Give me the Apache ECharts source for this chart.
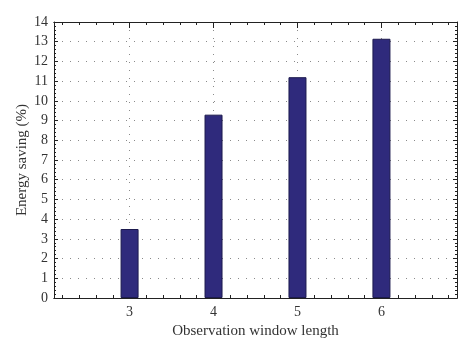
<!DOCTYPE html>
<html>
<head>
<meta charset="utf-8">
<script src="https://cdn.jsdelivr.net/npm/echarts@6/dist/echarts.min.js"></script>
<style>
  html, body { margin: 0; padding: 0; background: #fff; }
  #chart { width: 474px; height: 354px; }
</style>
</head>
<body>
<div id="chart"></div>
<script>
// window lengths and energy saving (%)
const windowLengths = [3, 4, 5, 6];
const energySaving = [3.5, 9.3, 11.2, 13.15];
const xMinorTicks = [2.2, 2.4, 2.6, 2.8, 3.2, 3.4, 3.6, 3.8, 4.2, 4.4, 4.6, 4.8,
  5.2, 5.4, 5.6, 5.8, 6.2, 6.4, 6.6, 6.8];

const font = "Liberation Serif";
const textColor = "#333";

const chart = echarts.init(document.getElementById("chart"));

const dotted = { color: "#8a8a8a", width: 1, type: [1, 7] };

// base x axis settings, copied for bottom/top and major/minor
const xBase = (pos, ticks, extra) => Object.assign({
  type: "value",
  position: pos,
  min: 2.1,
  max: 6.9,
  axisLine: { show: true, onZero: false, lineStyle: { color: "#222", width: 1 } },
  axisTick: { show: true, inside: true, length: 4, customValues: ticks, lineStyle: { color: "#222" } },
  axisLabel: { show: false },
  splitLine: { show: false },
}, extra || {});

const option = {
  animation: false,
  grid: { left: 54, right: 17, top: 22, bottom: 56 },
  xAxis: [
    xBase("bottom", windowLengths, {
      name: "Observation window length",
      nameLocation: "middle",
      nameGap: 22,
      nameTextStyle: { fontFamily: font, fontSize: 15, color: textColor },
      axisLabel: {
        show: true, customValues: windowLengths, margin: 7,
        fontFamily: font, fontSize: 14, color: textColor,
      },
      splitLine: { show: true, lineStyle: dotted },
    }),
    xBase("bottom", xMinorTicks, { axisTick: { show: true, inside: true, length: 3, customValues: xMinorTicks, lineStyle: { color: "#222" } } }),
    xBase("top", windowLengths, { axisTick: { show: true, inside: true, length: 6, customValues: windowLengths, lineStyle: { color: "#222" } } }),
    xBase("top", xMinorTicks, { axisTick: { show: true, inside: true, length: 3, customValues: xMinorTicks, lineStyle: { color: "#222" } } }),
  ],
  yAxis: [
    {
      type: "value",
      min: 0,
      max: 14,
      interval: 1,
      position: "left",
      name: "Energy saving (%)",
      nameLocation: "middle",
      nameGap: 24,
      nameMoveOverlap: false,
      nameTextStyle: { fontFamily: font, fontSize: 15, color: textColor },
      axisLine: { show: true, lineStyle: { color: "#222" } },
      axisTick: { show: true, inside: true, length: 4, lineStyle: { color: "#222" } },
      minorTick: { show: true, splitNumber: 5, length: 2, lineStyle: { color: "#222" } },
      axisLabel: { fontFamily: font, fontSize: 14, color: textColor, margin: 6 },
      splitLine: { show: true, lineStyle: dotted },
    },
    {
      type: "value",
      min: 0,
      max: 14,
      interval: 1,
      position: "right",
      axisLine: { show: true, lineStyle: { color: "#222" } },
      axisTick: { show: true, inside: true, length: 4, lineStyle: { color: "#222" } },
      minorTick: { show: true, splitNumber: 5, length: 2, lineStyle: { color: "#222" } },
      axisLabel: { show: false },
      splitLine: { show: false },
    },
  ],
  series: [
    {
      type: "bar",
      xAxisIndex: 0,
      yAxisIndex: 0,
      barWidth: 18,
      itemStyle: { color: "#2f2a7c", borderColor: "#1c1a4e", borderWidth: 1 },
      data: windowLengths.map((w, i) => [w, energySaving[i]]),
    },
  ],
};

chart.setOption(option);
</script>
</body>
</html>
